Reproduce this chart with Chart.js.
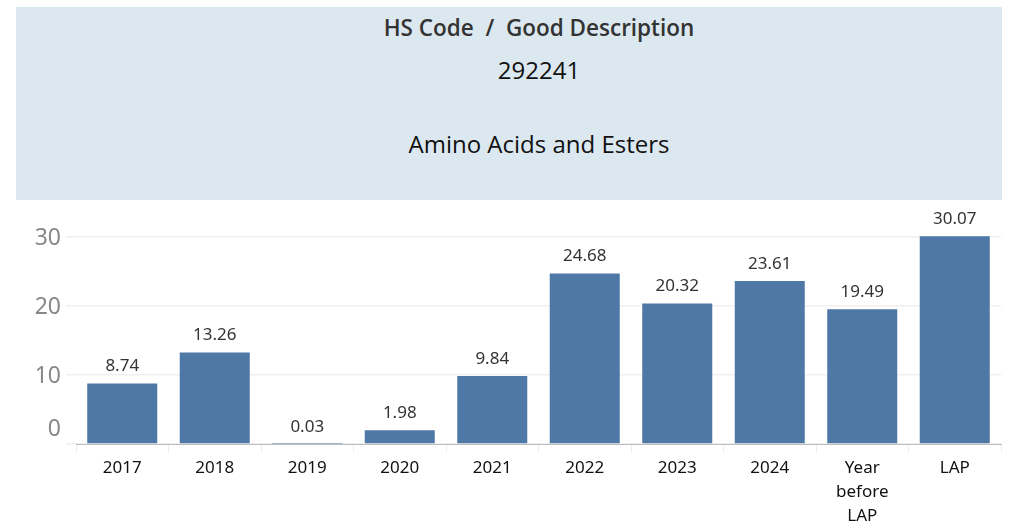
<!DOCTYPE html>
<html>
<head>
<meta charset="utf-8">
<script src="https://cdn.jsdelivr.net/npm/chart.js@4.4.1/dist/chart.umd.min.js"></script>
<style>
  html, body { margin: 0; padding: 0; background: #fff; }
  body { width: 1012px; height: 522px; position: relative; overflow: hidden; font-family: "Open Sans", "Noto Sans", sans-serif; }
  #header { position: absolute; left: 16px; top: 7px; width: 986px; height: 193px; background: #dce8ef; overflow: hidden; }
  #header div { position: absolute; left: 30px; width: 986px; text-align: center; line-height: 1; }
  #t1 { top: 10px; font-size: 22.5px; font-weight: 600; color: #333; }
  #t2 { top: 51px; font-size: 24px; color: #111; }
  #t3 { top: 125px; font-size: 24px; color: #111; }
  #wrap { position: absolute; left: 0; top: 200px; width: 1012px; height: 322px; }
</style>
</head>
<body>
<div id="header">
  <div id="t1">HS Code&nbsp; /&nbsp; Good Description</div>
  <div id="t2">292241</div>
  <div id="t3">Amino Acids and Esters</div>
</div>
<div id="wrap"><canvas id="myChart"></canvas></div>
<script>
var categories = ['2017', '2018', '2019', '2020', '2021', '2022', '2023', '2024', ['Year', 'before', 'LAP'], 'LAP'];
var values = [8.74, 13.26, 0.03, 1.98, 9.84, 24.68, 20.32, 23.61, 19.49, 30.07];
var yTicks = [0, 10, 20, 30];

// value labels above each bar
var barLabels = {
  id: 'barLabels',
  afterDatasetsDraw: function(chart) {
    var ctx = chart.ctx;
    var meta = chart.getDatasetMeta(0);
    ctx.save();
    ctx.font = '17px "Noto Sans", sans-serif';
    ctx.fillStyle = '#333';
    ctx.textAlign = 'center';
    ctx.textBaseline = 'middle';
    meta.data.forEach(function(bar, i) {
      ctx.fillText(values[i].toFixed(2), bar.x, bar.y - 17);
    });
    ctx.restore();
  }
};

// y tick labels (tableau draws the 0 label above the baseline)
var yLabels = {
  id: 'yLabels',
  afterDraw: function(chart) {
    var ctx = chart.ctx;
    var scale = chart.scales.y;
    ctx.save();
    ctx.font = '23px "Noto Sans", sans-serif';
    ctx.fillStyle = '#888';
    ctx.textAlign = 'right';
    ctx.textBaseline = 'middle';
    yTicks.forEach(function(v) {
      var y = scale.getPixelForValue(v);
      ctx.fillText(String(v), 61, v === 0 ? y - 15 : y + 2);
    });
    ctx.restore();
  }
};

var ctx = document.getElementById('myChart').getContext('2d');
var myChart = new Chart(ctx, {
  type: 'bar',
  data: {
    labels: categories,
    datasets: [{
      data: values,
      backgroundColor: '#4e79a7',
      barPercentage: 0.757,
      categoryPercentage: 1
    }]
  },
  options: {
    responsive: true,
    maintainAspectRatio: false,
    animation: false,
    layout: { padding: { top: 16, right: 11, left: 0, bottom: 0 } },
    plugins: {
      legend: false,
      tooltip: false
    },
    scales: {
      x: {
        grid: {
          offset: true,
          drawOnChartArea: false,
          drawTicks: true,
          tickLength: 8,
          color: '#ebebeb'
        },
        border: { display: true, color: '#bdbdbd', dash: [4, 4] },
        ticks: {
          color: '#111',
          padding: 4,
          maxRotation: 0,
          autoSkip: false,
          font: { family: '"Noto Sans", sans-serif', size: 17, lineHeight: 1.41 }
        },
        afterFit: function(scale) { scale.height = 78; }
      },
      y: {
        min: 0,
        max: 33,
        ticks: { display: false, stepSize: 10 },
        afterBuildTicks: function(scale) {
          scale.ticks = yTicks.map(function(v) { return { value: v }; });
        },
        grid: { color: '#efefef', tickLength: 10, lineWidth: 1.5 },
        border: { display: false },
        afterFit: function(scale) { scale.width = 76; }
      }
    }
  },
  plugins: [barLabels, yLabels]
});
</script>
</body>
</html>
